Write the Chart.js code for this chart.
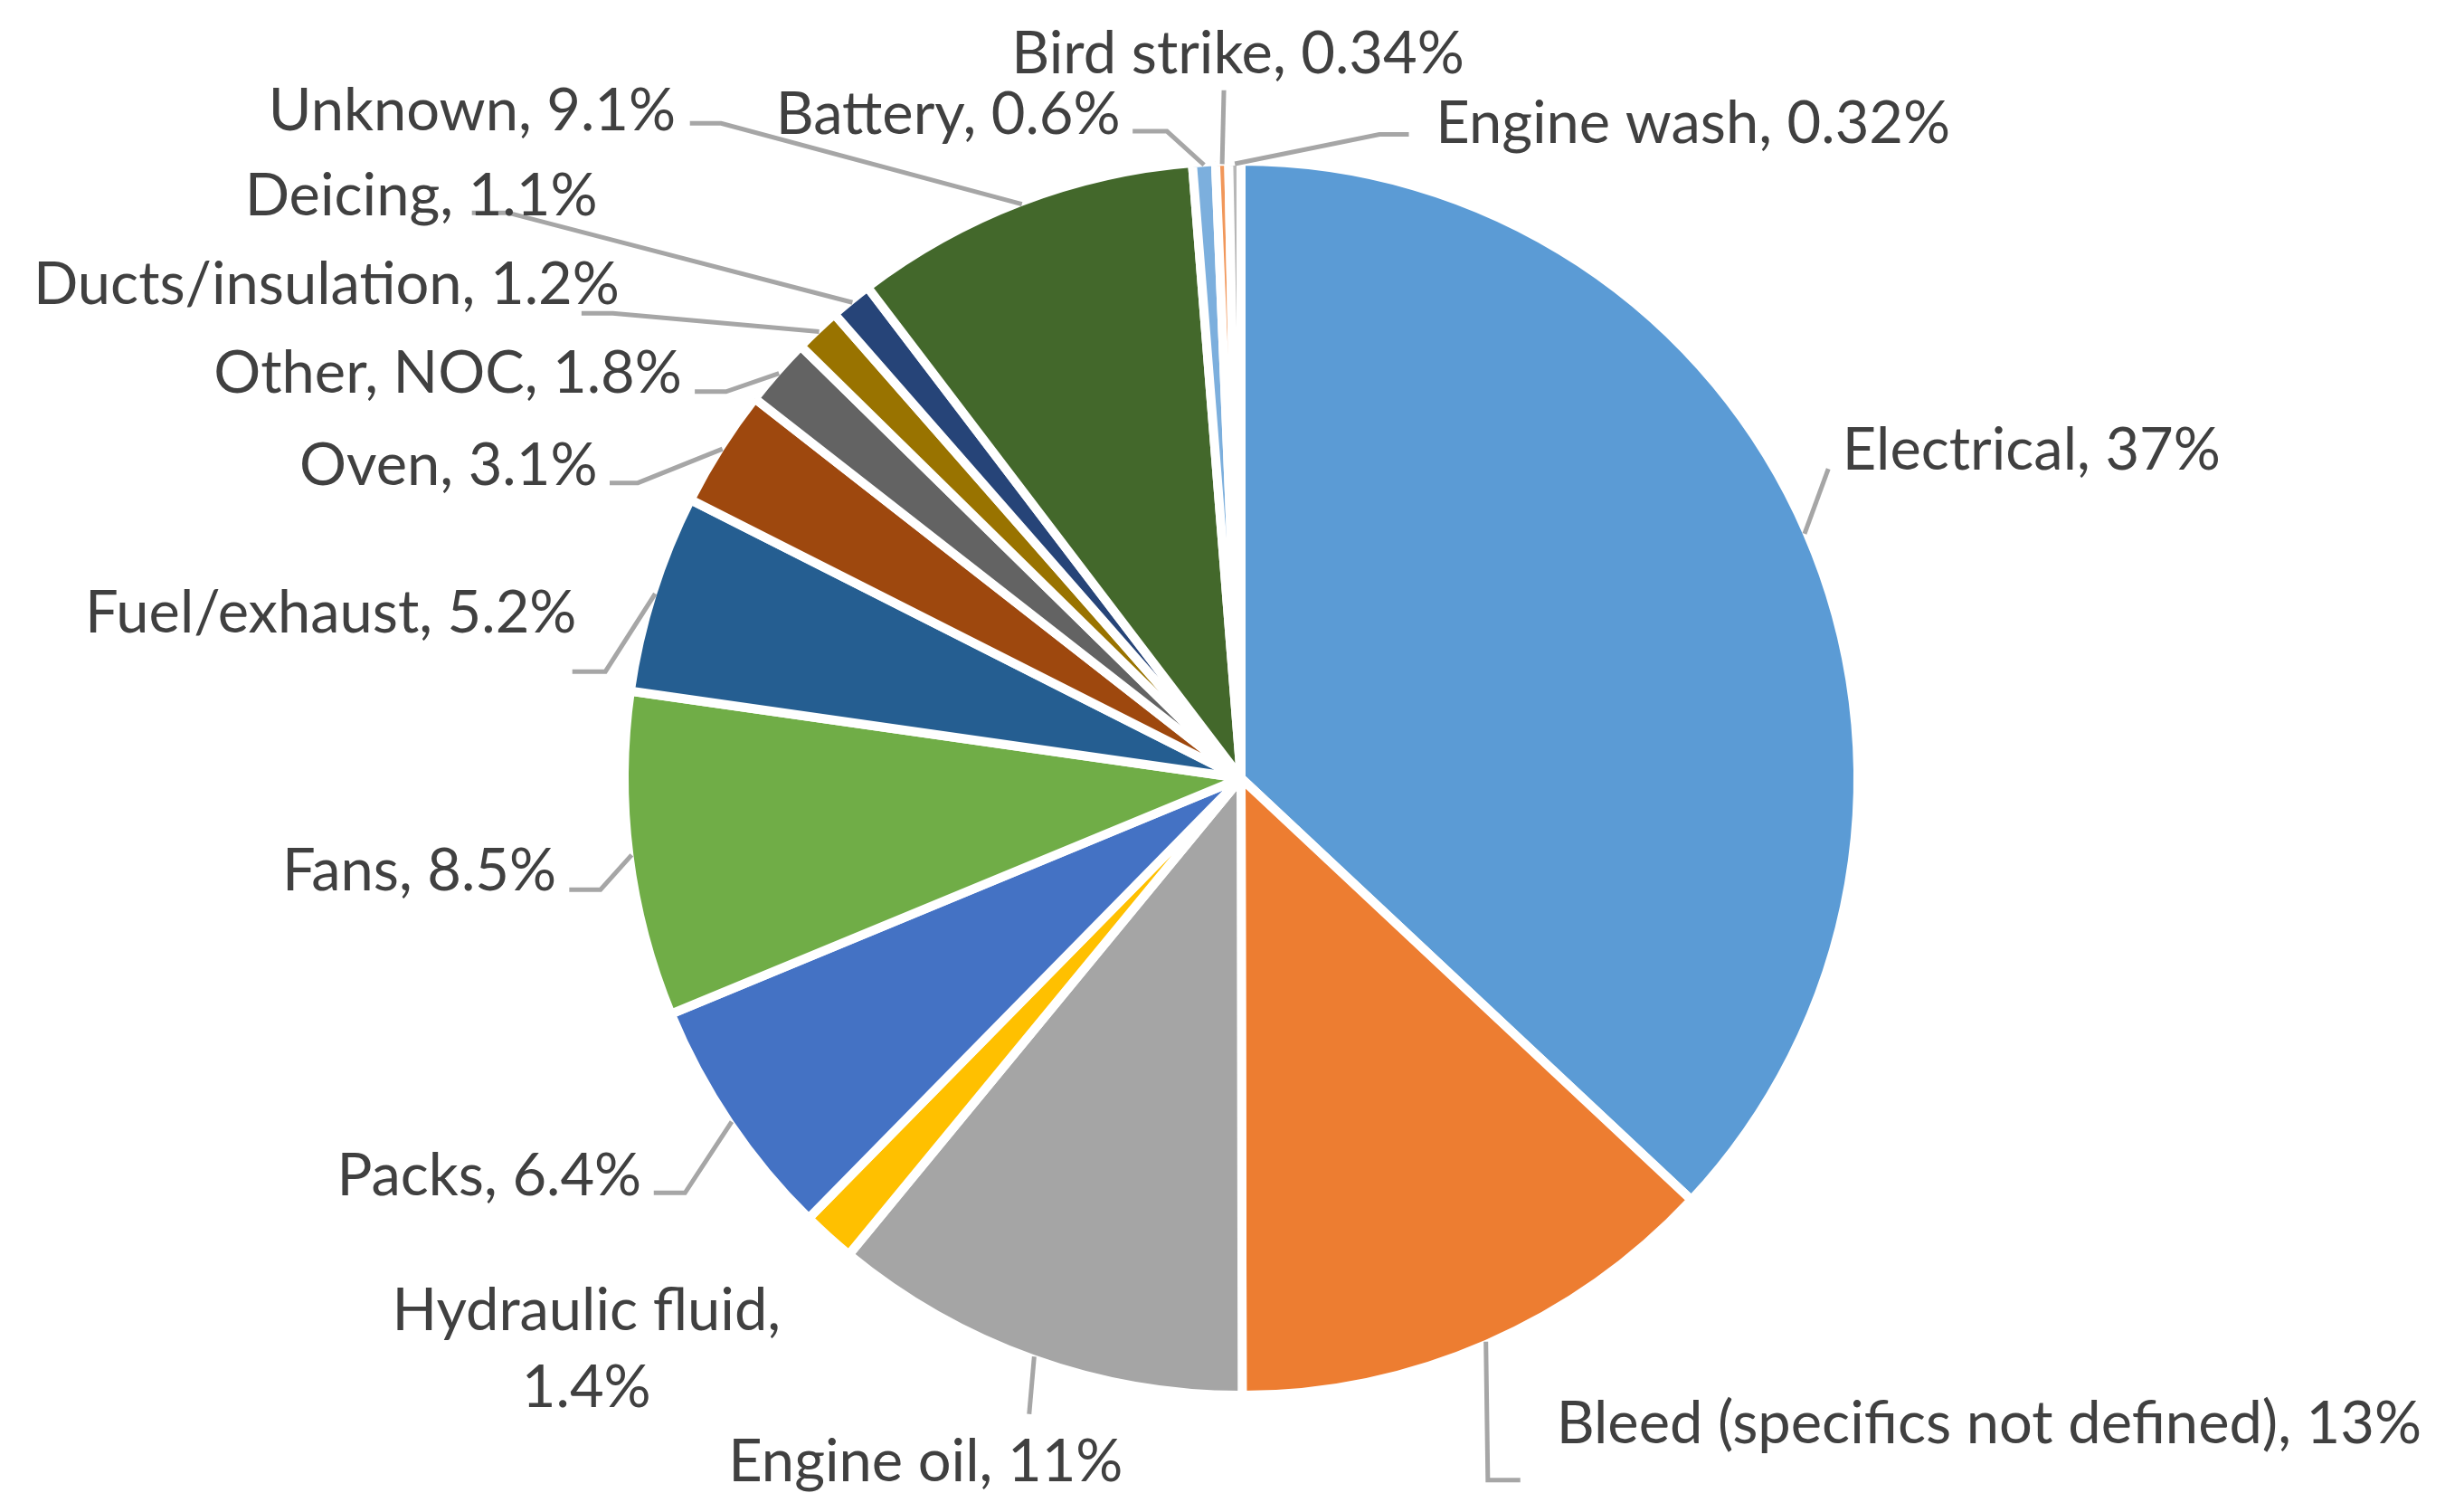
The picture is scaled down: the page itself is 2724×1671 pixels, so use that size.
<!DOCTYPE html>
<html>
<head>
<meta charset="utf-8">
<script src="https://cdn.jsdelivr.net/npm/chart.js@4.4.1/dist/chart.umd.min.js"></script>
<style>
  html, body { margin: 0; padding: 0; background: #ffffff; }
  #wrap { width: 2724px; height: 1671px; }
</style>
</head>
<body>
<div id="wrap"><canvas id="pieChart" width="2724" height="1671"></canvas></div>
<script>
// Categories, clockwise from 12 o'clock
const categories = [
    'Electrical', 'Bleed (specifics not defined)', 'Engine oil', 'Hydraulic fluid',
    'Packs', 'Fans', 'Fuel/exhaust', 'Oven', 'Other, NOC', 'Ducts/insulation',
    'Deicing', 'Unknown', 'Battery', 'Bird strike', 'Engine wash'
];
// Share of events, percent
const shares = [37, 13, 11, 1.4, 6.4, 8.5, 5.2, 3.1, 1.8, 1.2, 1.1, 9.1, 0.6, 0.34, 0.32];
// Office palette (accents, then darker / lighter variants)
const sliceColors = [
    '#5B9BD5', '#ED7D31', '#A5A5A5', '#FFC000', '#4472C4', '#70AD47',
    '#255E91', '#9E480E', '#636363', '#997300', '#264478', '#43682B',
    '#7CAFDD', '#F1975A', '#B7B7B7'
];

// Label placement, in units of the pie radius from its centre.
// t = text anchor, a = alignment, p = leader bend points (leader starts on the slice edge)
const labelLayout = [
    { t: [0.982, -0.538], a: 'left',   p: [[0.959, -0.505]] },
    { t: [0.515, 1.051],  a: 'left',   p: [[0.403, 1.146], [0.456, 1.146]] },
    { t: [-0.515, 1.113], a: 'center', p: [[-0.346, 1.038]] },
    { t: [-1.069, 0.867], a: 'center', p: [], wrap: true },
    { t: [-0.979, 0.646], a: 'right',  p: [[-0.908, 0.677], [-0.959, 0.677]] },
    { t: [-1.118, 0.149], a: 'right',  p: [[-1.046, 0.182], [-1.097, 0.182]] },
    { t: [-1.085, -0.272], a: 'right', p: [[-1.038, -0.174], [-1.092, -0.174]] },
    { t: [-1.051, -0.513], a: 'right', p: [[-0.985, -0.482], [-1.031, -0.482]] },
    { t: [-0.913, -0.664], a: 'right', p: [[-0.841, -0.631], [-0.892, -0.631]] },
    { t: [-1.015, -0.808], a: 'right', p: [[-1.026, -0.759], [-1.077, -0.759]] },
    { t: [-1.051, -0.954], a: 'right', p: [[-1.197, -0.923], [-1.256, -0.923]] },
    { t: [-0.923, -1.092], a: 'right', p: [[-0.849, -1.069], [-0.900, -1.069]] },
    { t: [-0.197, -1.087], a: 'right', p: [[-0.121, -1.056], [-0.177, -1.056]] },
    { t: [-0.005, -1.185], a: 'center', p: [[-0.028, -1.123]] },
    { t: [0.318, -1.072], a: 'left',   p: [[0.226, -1.051], [0.274, -1.051]] }
];

const FONT_SIZE = 65;
const BORDER = 10;

// Draws the outside labels with their leader lines
const outsideLabels = {
    id: 'outsideLabels',
    afterDatasetsDraw(chart) {
        const ctx = chart.ctx;
        const arcs = chart.getDatasetMeta(0).data;
        ctx.save();
        ctx.font = FONT_SIZE + 'px Lato, "Open Sans", sans-serif';
        ctx.fillStyle = '#404040';
        ctx.strokeStyle = '#A6A6A6';
        ctx.lineWidth = 5;
        ctx.lineJoin = 'miter';

        arcs.forEach((arc, i) => {
            const { x, y, startAngle, endAngle, outerRadius } = arc.getProps(['x', 'y', 'startAngle', 'endAngle', 'outerRadius'], true);
            const r = outerRadius - BORDER / 2;
            const lay = labelLayout[i];
            const mid = (startAngle + endAngle) / 2;

            // leader line
            if (lay.p.length) {
                ctx.beginPath();
                ctx.moveTo(x + Math.cos(mid) * (r + 2), y + Math.sin(mid) * (r + 2));
                lay.p.forEach(pt => ctx.lineTo(x + pt[0] * r, y + pt[1] * r));
                ctx.stroke();
            }

            // text
            const val = shares[i] + '%';
            const lines = lay.wrap ? [categories[i] + ',', val] : [categories[i] + ', ' + val];
            const lineGap = FONT_SIZE * 1.3;
            ctx.textAlign = lay.a;
            ctx.textBaseline = 'alphabetic';
            lines.forEach((txt, k) => {
                const ty = y + lay.t[1] * r + k * lineGap + FONT_SIZE * 0.36;
                ctx.fillText(txt, x + lay.t[0] * r, ty);
            });
        });
        ctx.restore();
    }
};

new Chart(document.getElementById('pieChart'), {
    type: 'pie',
    data: {
        labels: categories,
        datasets: [{
            data: shares,
            backgroundColor: sliceColors,
            borderColor: '#ffffff',
            borderWidth: BORDER,
            hoverOffset: 0,
            hoverBorderWidth: BORDER
        }]
    },
    options: {
        responsive: false,
        devicePixelRatio: 1,
        animation: false,
        radius: 682,
        layout: {
            padding: { left: 692, right: 672, top: 180, bottom: 131 }
        },
        plugins: {
            legend: { display: false },
            tooltip: { enabled: false }
        }
    },
    plugins: [outsideLabels]
});
</script>
</body>
</html>
